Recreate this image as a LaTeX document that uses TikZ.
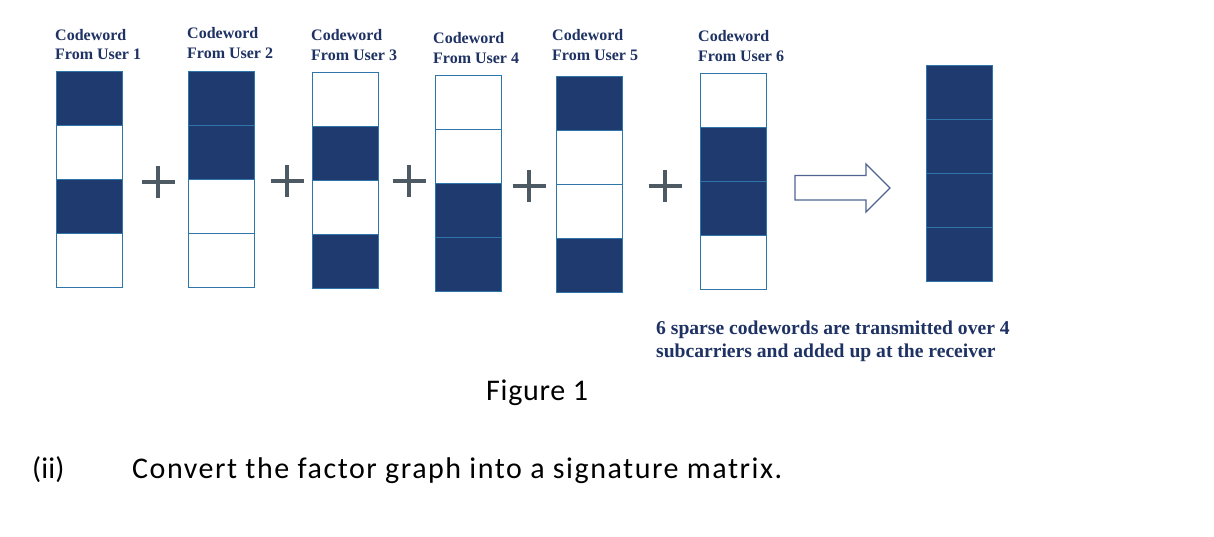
\documentclass[tikz,border=0pt]{standalone}
\usepackage{fontspec}
\setmainfont{Liberation Serif}
\newfontfamily\calA[LetterSpace=5.1]{Carlito}
\newfontfamily\calB[LetterSpace=2.4]{Carlito}
\newfontfamily\calC[LetterSpace=0.5]{Carlito}
\definecolor{navy}{RGB}{31,58,110}
\definecolor{cellborder}{RGB}{46,117,170}
\definecolor{labelcol}{RGB}{31,50,100}
\definecolor{plusgray}{RGB}{77,90,99}
\definecolor{arrowcol}{RGB}{80,100,145}
\tikzset{
  oncell/.style={fill=navy,draw=cellborder,line width=1pt},
  offcell/.style={fill=white,draw=cellborder,line width=1pt},
  plusline/.style={draw=plusgray,line width=4pt},
  cwlabel/.style={anchor=base west,inner sep=0pt,text=labelcol,font=\fontsize{16}{20}\selectfont\bfseries,align=left},
  captext/.style={anchor=base west,inner sep=0pt,text=labelcol,font=\fontsize{19.6}{23}\selectfont\bfseries},
}
\begin{document}
\begin{tikzpicture}[x=1pt,y=-1pt]
\useasboundingbox (0,0) rectangle (1214,536);
\fill[white] (0,0) rectangle (1214,536);
% columns
\foreach \x/\y/\a/\b/\c/\d in {56/71.5/1/0/1/0, 188/71/1/1/0/0, 312/72.5/0/1/0/1, 435/75.5/0/0/1/1, 556/76/1/0/0/1, 700/73.5/0/1/1/0, 926/65.5/1/1/1/1}{
  \foreach \v [count=\k from 0] in {\a,\b,\c,\d}{
    \ifnum\v=1
      \path[oncell] (\x,\y+54*\k) rectangle (\x+66,\y+54*\k+54);
    \else
      \path[offcell] (\x,\y+54*\k) rectangle (\x+66,\y+54*\k+54);
    \fi
  }
}
% labels
\node[cwlabel] (l1a) at (55,40) {Codeword};
\node[cwlabel] (l1b) at (55,59.5) {From User 1};
\node[cwlabel] (l2a) at (187,38.5) {Codeword};
\node[cwlabel] (l2b) at (187,58) {From User 2};
\node[cwlabel] (l3a) at (311,40.5) {Codeword};
\node[cwlabel] (l3b) at (311,60) {From User 3};
\node[cwlabel] (l4a) at (433,43.5) {Codeword};
\node[cwlabel] (l4b) at (433,63) {From User 4};
\node[cwlabel] (l5a) at (552,40.5) {Codeword};
\node[cwlabel] (l5b) at (552,60) {From User 5};
\node[cwlabel] (l6a) at (698,41.5) {Codeword};
\node[cwlabel] (l6b) at (698,61.5) {From User 6};
% plus signs
\foreach \px/\py in {158/182, 287/181, 409/181, 529/186, 665/186}{
  \draw[plusline] (\px-16.5,\py) -- (\px+16.5,\py);
  \draw[plusline] (\px,\py-16) -- (\px,\py+16);
}
% block arrow
\draw[arrowcol,line width=1.3pt,line join=miter,fill=white]
  (795,175.5) -- (866,175.5) -- (866,164) -- (890,188) -- (866,212) -- (866,200) -- (795,200) -- cycle;
% caption text
\node[captext] (cap1) at (656,334) {6 sparse codewords are transmitted over 4};
\node[captext] (cap2) at (656,357.5) {subcarriers and added up at the receiver};
\node[anchor=base west,inner sep=0pt,font=\calB\fontsize{30}{34}\selectfont] (fig) at (486,400) {Figure 1};
\node[anchor=base west,inner sep=0pt,font=\calC\fontsize{30}{34}\selectfont] (ii) at (32,478) {(ii)};
\node[anchor=base west,inner sep=0pt,font=\calA\fontsize{30}{34}\selectfont] (q) at (132,478) {Convert the factor graph into a signature matrix.};
\end{tikzpicture}
\end{document}
